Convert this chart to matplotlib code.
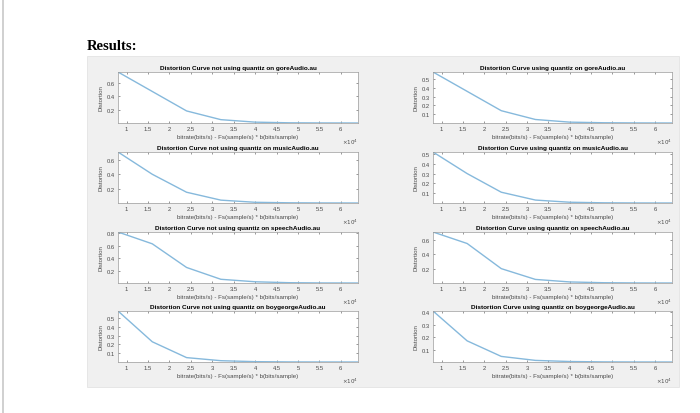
import matplotlib
matplotlib.use("Agg")
import matplotlib.pyplot as plt
from matplotlib.ticker import MultipleLocator, FuncFormatter
from matplotlib.patches import Rectangle

plt.rcParams["font.family"] = ["Liberation Sans", "DejaVu Sans"]

# bitrate = Fs * bits, Fs = 8000
bitrate = [8000, 16000, 24000, 32000, 40000, 48000, 56000, 64000]

gore_plain = [0.76, 0.47, 0.18, 0.05, 0.013, 0.003, 0.001, 0.0002]
gore_quant = [0.58, 0.36, 0.14, 0.04, 0.010, 0.003, 0.001, 0.0002]
music_plain = [0.71, 0.40, 0.15, 0.04, 0.010, 0.003, 0.001, 0.0002]
music_quant = [0.52, 0.30, 0.11, 0.03, 0.008, 0.002, 0.0005, 0.0001]
speech_plain = [0.82, 0.63, 0.25, 0.06, 0.020, 0.005, 0.001, 0.0003]
speech_quant = [0.71, 0.55, 0.20, 0.05, 0.015, 0.004, 0.001, 0.0002]
boy_plain = [0.58, 0.23, 0.05, 0.015, 0.004, 0.001, 0.0003, 0.0001]
boy_quant = [0.41, 0.17, 0.045, 0.013, 0.004, 0.001, 0.0003, 0.0001]

files = ["goreAudio.au", "musicAudio.au", "speechAudio.au", "boygeorgeAudio.au"]
plain = [gore_plain, music_plain, speech_plain, boy_plain]
quant = [gore_quant, music_quant, speech_quant, boy_quant]
ysteps_plain = [0.2, 0.2, 0.2, 0.1]
ysteps_quant = [0.1, 0.1, 0.2, 0.1]

W, H = 700, 414
fig = plt.figure(figsize=(7, 4.14), dpi=100)
fig.patch.set_facecolor("white")

# page border line and grey figure panel
fig.add_artist(plt.Line2D([2.5 / W, 2.5 / W], [0, 1], color="#c8c8c8", lw=1.2, zorder=-2))
fig.add_artist(Rectangle((87 / W, 1 - 388 / H), (679 - 87) / W, (388 - 57) / H,
                         facecolor="#f0f0f0", edgecolor="#e0e0e0", lw=0.5, zorder=-2))
fig.text(87 / W, 1 - 46 / H, "Results:", family="Liberation Serif",
         fontweight="bold", fontsize=10.5, va="center", ha="left")

def make_ax(x0, x1, top, bottom, y, step, title):
    ax = fig.add_axes([x0 / W, 1 - bottom / H, (x1 - x0) / W, (bottom - top) / H])
    ax.plot(bitrate, y, color="#86b9dc", lw=1.0)
    ax.set_xlim(bitrate[0], bitrate[-1])
    ax.set_ylim(min(y), max(y))
    ax.xaxis.set_major_locator(MultipleLocator(5000))
    ax.xaxis.set_major_formatter(FuncFormatter(lambda v, p: f"{v / 1e4:g}"))
    ax.yaxis.set_major_locator(MultipleLocator(step))
    ax.tick_params(direction="in", top=True, right=True, length=1.5, width=0.4,
                   labelsize=4.2, colors="#4a4a4a", pad=2.5)
    for s in ax.spines.values():
        s.set_color("#9a9a9a")
        s.set_linewidth(0.5)
    ax.set_title(title, fontsize=4.6, fontweight="bold", pad=2)
    ax.set_xlabel("bitrate(bits/s) - Fs(sample/s) * b(bits/sample)", fontsize=4.4,
                  color="#4a4a4a", labelpad=2.0)
    ax.set_ylabel("Distortion", fontsize=4.4, color="#4a4a4a", labelpad=2)
    ax.text(1.0, -0.36, r"$\times10^4$", transform=ax.transAxes, ha="right",
            va="center", fontsize=4.0, color="#4a4a4a")
    return ax

tops = [73, 153, 233, 312]
for i in range(4):
    t = tops[i]
    b = t + 51
    make_ax(118, 358, t, b, plain[i], ysteps_plain[i],
            f"Distortion Curve not using quantiz on {files[i]}")
    make_ax(433, 672, t, b, quant[i], ysteps_quant[i],
            f"Distortion Curve using quantiz on {files[i]}")

fig.savefig("out.png", dpi=100)
